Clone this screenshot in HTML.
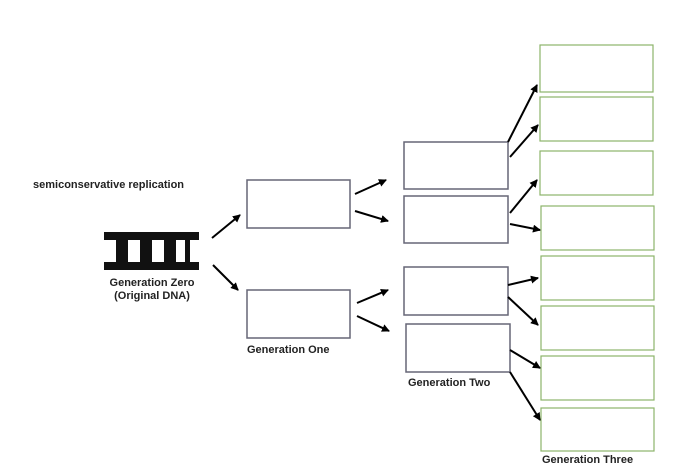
<!DOCTYPE html><html><head><style>
body{margin:0;background:#fff;width:700px;height:472px;overflow:hidden;position:relative;font-family:"Liberation Sans",sans-serif}
.t{position:absolute;font-size:11px;font-weight:bold;color:#222;white-space:nowrap}
</style></head><body>
<svg width="700" height="472" style="position:absolute;left:0;top:0">
<defs><marker id="a" markerWidth="8" markerHeight="8" refX="7" refY="4" orient="auto" markerUnits="userSpaceOnUse"><path d="M0,0L8,4L0,8z" fill="#000"/></marker></defs>
<g fill="#fff" stroke="#667" stroke-width="1.5">
<rect x="247" y="180" width="103" height="48"/><rect x="247" y="290" width="103" height="48"/>
<rect x="404" y="142" width="104" height="47"/><rect x="404" y="196" width="104" height="47"/>
<rect x="404" y="267" width="104" height="48"/><rect x="406" y="324" width="104" height="48"/>
</g>
<g fill="#fff" stroke="#8db36a" stroke-width="1.2">
<rect x="540" y="45" width="113" height="47"/><rect x="540" y="97" width="113" height="44"/>
<rect x="540" y="151" width="113" height="44"/><rect x="541" y="206" width="113" height="44"/>
<rect x="541" y="256" width="113" height="44"/><rect x="541" y="306" width="113" height="44"/>
<rect x="541" y="356" width="113" height="44"/><rect x="541" y="408" width="113" height="43"/>
</g>
<g fill="#111">
<rect x="104" y="232" width="95" height="8"/><rect x="104" y="262" width="95" height="8"/>
<rect x="116" y="232" width="12" height="38"/><rect x="140" y="232" width="12" height="38"/><rect x="164" y="232" width="12" height="38"/><rect x="185" y="232" width="5" height="38"/>
</g>
<g stroke="#000" stroke-width="2" marker-end="url(#a)">
<line x1="212" y1="238" x2="240" y2="215"/><line x1="213" y1="265" x2="238" y2="290"/>
<line x1="355" y1="194" x2="386" y2="180"/><line x1="355" y1="211" x2="388" y2="221"/>
<line x1="357" y1="303" x2="388" y2="290"/><line x1="357" y1="316" x2="389" y2="331"/>
<line x1="508" y1="142" x2="537" y2="85"/><line x1="510" y1="157" x2="538" y2="125"/>
<line x1="510" y1="213" x2="537" y2="180"/><line x1="510" y1="224" x2="540" y2="230"/>
<line x1="508" y1="285" x2="538" y2="278"/><line x1="508" y1="297" x2="538" y2="325"/>
<line x1="510" y1="350" x2="540" y2="368"/><line x1="510" y1="372" x2="540" y2="420"/>
</g>
</svg>
<div class="t" style="left:33px;top:179px">semiconservative replication</div>
<div class="t" style="left:92px;top:277px;width:120px;text-align:center;line-height:13px">Generation Zero<br>(Original DNA)</div>
<div class="t" style="left:247px;top:344px">Generation One</div>
<div class="t" style="left:408px;top:377px">Generation Two</div>
<div class="t" style="left:542px;top:454px">Generation Three</div>
</body></html>
